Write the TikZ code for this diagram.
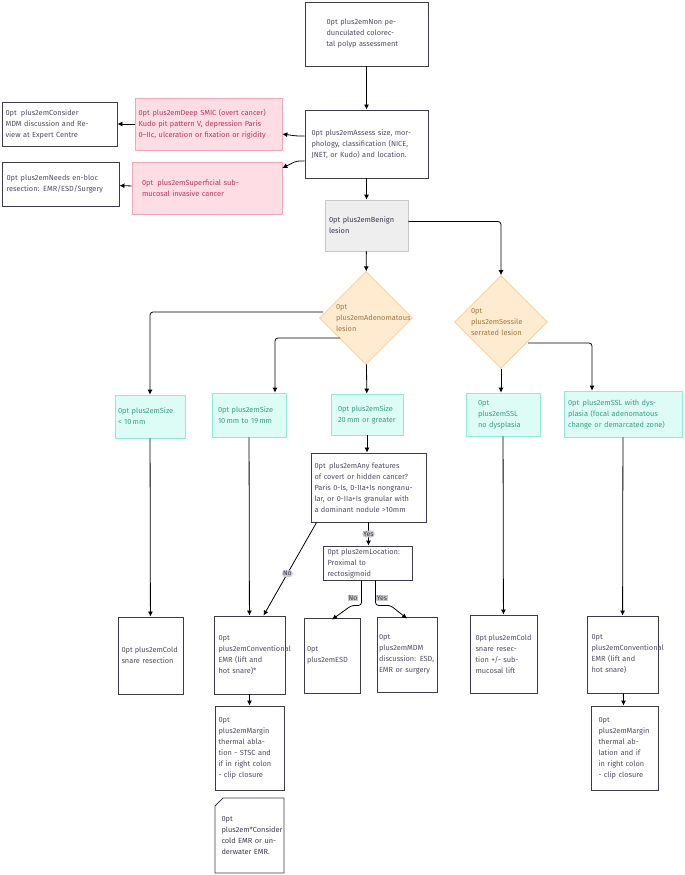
\documentclass[tikz,border=0pt]{standalone}
\usepackage{fontspec}
\setmainfont{Fira Sans}
\usetikzlibrary{shapes.geometric,shapes.misc,arrows.meta}
\definecolor{dk}{HTML}{3C3A50}
\definecolor{pkf}{HTML}{FFDDE4}\definecolor{pkd}{HTML}{F2A7B9}\definecolor{pkt}{HTML}{B03A5B}
\definecolor{cyf}{HTML}{DDFCF5}\definecolor{cyd}{HTML}{8EEBD8}\definecolor{cyt}{HTML}{3A9E88}
\definecolor{orf}{HTML}{FFEBD0}\definecolor{ord}{HTML}{F6CF95}\definecolor{ort}{HTML}{A07A40}
\definecolor{gyf}{HTML}{EEEEEE}\definecolor{gyd}{HTML}{C8C8C8}
\tikzset{
 base/.style={font=\fontsize{7.4}{11}\selectfont\hyphenpenalty=10000\exhyphenpenalty=10000, align=center, inner sep=2pt},
 box/.style={base, draw=dk, line width=0.9pt, fill=white, text=dk!90},
 pink/.style={base, draw=pkd, fill=pkf, text=pkt, line width=0.7pt},
 cyan/.style={base, draw=cyd, fill=cyf, text=cyt, line width=0.7pt},
 gray/.style={base, draw=gyd, fill=gyf, text=dk, line width=0.7pt},
 dia/.style={base, diamond, draw=ord, fill=orf, text=ort, line width=0.7pt, minimum width=93pt, minimum height=93pt, inner sep=0pt},
 sz/.style n args={3}{minimum width=#1pt, minimum height=#2pt, text width=#3pt},
 arr/.style={-{Latex[length=5pt,width=5pt]}, line width=0.8pt, rounded corners=3pt},
 lab/.style={font=\fontsize{6.8}{7}\selectfont, fill=gyd, text=dk, inner sep=1pt}
}
\begin{document}
\begin{tikzpicture}[x=1pt,y=-1pt]
\useasboundingbox (0,0) rectangle (685,875);
\node[box,sz={123}{64}{80}] (start) at (366.5,34) {Non pedunculated colorectal polyp assessment};
\node[box,sz={123}{68}{110}] (assess) at (366.5,144) {Assess size, morphology, classification (NICE, JNET, or Kudo) and location.};
\node[pink,sz={147}{52}{140}] (deep) at (208.5,124) {Deep SMIC (overt cancer) Kudo pit pattern V, depression Paris 0--IIc, ulceration or fixation or rigidity};
\node[box,sz={115}{44}{108}] (mdm) at (59.5,124) {Consider MDM discussion and Review at Expert Centre};
\node[pink,sz={150}{52}{130}] (sup) at (207,188) {Superficial submucosal invasive cancer};
\node[box,sz={117}{44}{108}] (enbloc) at (60.5,184) {Needs en-bloc resection: EMR/ESD/Surgery};
\node[gray,sz={83}{51}{75}] (benign) at (366.5,225.5) {Benign lesion};
\node[dia,text width=60pt] (adeno) at (366,318) {Adenomatous lesion};
\node[dia,text width=60pt] (ssl) at (501,322) {Sessile serrated lesion};
\node[cyan,sz={70}{43}{64}] (s10) at (150,416.5) {Size < 10\,mm};
\node[cyan,sz={74}{44}{62}] (s1019) at (249,415) {Size 10\,mm to 19\,mm};
\node[cyan,sz={72}{41}{58}] (s20) at (367,414.5) {Size 20\,mm or greater};
\node[cyan,sz={74}{43}{50}] (sslno) at (503,414.5) {SSL no dysplasia};
\node[cyan,sz={118}{46}{110}] (sslwith) at (623,414) {SSL with dysplasia (focal adenomatous change or demarcated zone)};
\node[box,sz={115}{69}{108}] (feat) at (368.5,487.5) {Any features of covert or hidden cancer? Paris 0-Is, 0-IIa+Is nongranular, or 0-IIa+Is granular with a dominant nodule >10mm};
\node[box,sz={89}{34}{80}] (loc) at (367.5,563) {Location: Proximal to rectosigmoid};
\node[box,sz={65}{77}{58}] (cold) at (150.5,655.5) {Cold snare resection};
\node[box,sz={71}{78}{62}] (conv) at (249.5,655) {Conventional EMR (lift and hot snare)*};
\node[box,sz={56}{75}{50}] (esd) at (332,655.5) {ESD};
\node[box,sz={60}{75}{56}] (mdmd) at (407,654.5) {MDM discussion: ESD, EMR or surgery};
\node[box,sz={67}{78}{56}] (coldssl) at (503.5,654) {Cold snare resection +/- submucosal lift};
\node[box,sz={71}{77}{62}] (conv2) at (622.5,654.5) {Conventional EMR (lift and hot snare)};
\node[box,sz={69}{84}{62}] (marg1) at (249.5,748) {Margin thermal ablation - STSC and if in right colon - clip closure};
\node[base,text=dk,sz={69}{75}{56}] (note) at (249.5,835.5) {*Consider cold EMR or underwater EMR.};
\draw[dk,line width=0.9pt] (215,806) -- (223,798) -- (284,798) -- (284,873) -- (215,873) -- cycle;
\node[box,sz={67}{84}{52}] (marg2) at (624.5,748) {Margin thermal ablation and if in right colon - clip closure};

\draw[arr] (start) -- (assess);
\draw[arr] ([yshift=8pt]assess.west) -- ++(-8,0) -- ([yshift=-10pt]deep.east);
\draw[arr] ([yshift=-17pt]assess.west) -- ++(-8,0) -- ([yshift=20pt]sup.east);
\draw[arr] (deep) -- (mdm);
\draw[arr] (sup) -- (enbloc);
\draw[arr] (assess) -- (benign);
\draw[arr] (benign) -- (adeno);
\draw[arr] ([yshift=4pt]benign.east) -| (ssl.north);
\draw[arr] ([xshift=-43pt,yshift=6pt]adeno.center) -| (s10.north);
\draw[arr] ([xshift=-26pt,yshift=-20pt]adeno.center) -| ([xshift=26pt]s1019.north);
\draw[arr] (adeno) -- (s20);
\draw[arr] (ssl.south) -- (ssl.south |- sslno.north);
\draw[arr] ([xshift=27pt,yshift=-21pt]ssl.center) -| ([xshift=-31pt]sslwith.north);
\draw[arr] (s10) -- (cold);
\draw[arr] (s1019) -- (conv);
\draw[arr] (s20) -- (s20 |- feat.north);
\draw[arr] (feat.south) -- node[lab]{Yes} (feat.south |- loc.north);
\draw[arr] ([xshift=6pt]feat.south west) -- node[lab,pos=0.55]{No} ([xshift=14pt]conv.north);
\draw[arr] ([xshift=-6pt]loc.south) |- ++(-10,25) -- ([yshift=-2pt]esd.north);
\draw[arr] ([xshift=8pt]loc.south) |- ++(15,25) -- ([yshift=-2pt]mdmd.north);
\node[lab] at (353,598) {No};
\node[lab] at (382,598) {Yes};
\draw[arr] (sslno) -- (coldssl);
\draw[arr] (sslwith) -- (conv2);
\draw[arr] (conv) -- (marg1);
\draw[arr] (conv2) -- (marg2);
\end{tikzpicture}
\end{document}
